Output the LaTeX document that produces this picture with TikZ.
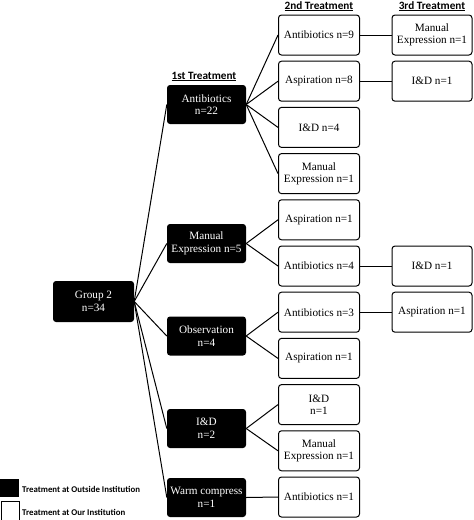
\documentclass[tikz,border=0pt]{standalone}
\usepackage{fontspec}
\setmainfont{Liberation Serif}
\newfontfamily\hdfont{Carlito}
\begin{document}
\begin{tikzpicture}[x=1pt,y=-1pt,
  blk/.style={fill=black, text=white, rounded corners=3pt, minimum width=79pt, minimum height=39pt, align=center, inner sep=1pt, font=\fontsize{11.2}{12.5}\selectfont},
  wht/.style={draw=black, line width=1pt, fill=white, rounded corners=3pt, minimum width=81pt, minimum height=40pt, align=center, inner sep=1pt, font=\fontsize{11.2}{12.5}\selectfont},
  hdr/.style={font=\hdfont\bfseries\fontsize{11.2}{13}\selectfont, anchor=base, inner sep=0pt},
  lgd/.style={font=\hdfont\bfseries\fontsize{8.8}{10}\selectfont, anchor=west, inner sep=0pt},
  conn/.style={line width=1pt}]
\useasboundingbox (0,0) rectangle (474,520);

% headers
\node[hdr] (h1) at (204,79) {\underline{1st Treatment}};
\node[hdr] (h2) at (319,9) {\underline{2nd Treatment}};
\node[hdr] (h3) at (432,9) {\underline{3rd Treatment}};

% level 0
\node[blk, minimum width=81pt, minimum height=41pt] (g) at (93.5,301.5) {Group 2\\n=34};

% level 1
\node[blk] (a) at (206.5,104.5) {Antibiotics\\n=22};
\node[blk] (b) at (206.5,243.5) {Manual\\Expression n=5};
\node[blk] (c) at (206.5,336) {Observation\\n=4};
\node[blk] (d) at (206.5,428.5) {I\&D\\n=2};
\node[blk] (e) at (206.5,497.5) {Warm compress\\n=1};

% level 2
\node[wht] (r1) at (319,35) {Antibiotics n=9};
\node[wht] (r2) at (319,81.2) {Aspiration n=8};
\node[wht] (r3) at (319,127.4) {I\&D n=4};
\node[wht] (r4) at (319,173.6) {Manual\\Expression n=1};
\node[wht] (r5) at (319,219.8) {Aspiration n=1};
\node[wht] (r6) at (319,266) {Antibiotics n=4};
\node[wht] (r7) at (319,312.2) {Antibiotics n=3};
\node[wht] (r8) at (319,358.4) {Aspiration n=1};
\node[wht] (r9) at (319,404.6) {I\&D\\n=1};
\node[wht] (r10) at (319,450.8) {Manual\\Expression n=1};
\node[wht] (r11) at (319,497) {Antibiotics n=1};

% level 3
\node[wht, minimum width=80pt] (s1) at (432,35) {Manual\\Expression n=1};
\node[wht, minimum width=80pt] (s2) at (432,81.2) {I\&D n=1};
\node[wht, minimum width=80pt] (s6) at (432,266) {I\&D n=1};
\node[wht, minimum width=80pt] (s7) at (432,312.2) {Aspiration n=1};

% connectors
\foreach \t in {a,b,c,d,e} \draw[conn] (g.east) -- (\t.west);
\foreach \t in {r1,r2,r3,r4} \draw[conn] (a.east) -- (\t.west);
\foreach \t in {r5,r6} \draw[conn] (b.east) -- (\t.west);
\foreach \t in {r7,r8} \draw[conn] (c.east) -- (\t.west);
\foreach \t in {r9,r10} \draw[conn] (d.east) -- (\t.west);
\draw[conn] (e.east) -- (r11.west);
\draw[conn] (r1.east) -- (s1.west);
\draw[conn] (r2.east) -- (s2.west);
\draw[conn] (r6.east) -- (s6.west);
\draw[conn] (r7.east) -- (s7.west);

% legend
\node[fill=black, minimum width=19pt, minimum height=18pt, inner sep=0pt, anchor=north west] (lb) at (0,479) {};
\node[draw=black, line width=1pt, fill=white, minimum width=18.5pt, minimum height=19pt, inner sep=0pt, anchor=north west] (lw) at (0.5,500.5) {};
\node[lgd] (lt1) at (22,489) {Treatment at Outside Institution};
\node[lgd] (lt2) at (22,512) {Treatment at Our Institution};
\end{tikzpicture}
\end{document}
